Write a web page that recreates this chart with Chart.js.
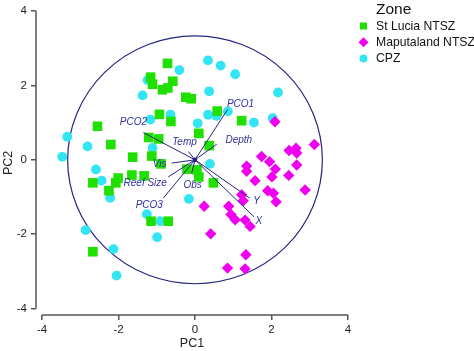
<!DOCTYPE html>
<html>
<head>
<meta charset="utf-8">
<script src="https://cdn.jsdelivr.net/npm/chart.js@4.4.1/dist/chart.umd.min.js"></script>
<style>
  html, body { margin: 0; padding: 0; background: #fff; }
  #wrap { width: 474px; height: 351px; }
</style>
</head>
<body>
<div id="wrap"><canvas id="pca"></canvas></div>
<script>
// zones
const zoneNames = ['St Lucia NTSZ', 'Maputaland NTSZ', 'CPZ'];

// St Lucia NTSZ (green squares)
const stLuciaX = [-0.72, -1.16, -1.11, -0.85, -0.71, -0.58, -0.24, -0.10, 0.58, -0.93, -0.63, -2.55, 0.10, -2.20, -1.21, -0.95, 0.37,
  -1.63, -1.13, 1.22, -0.89, -2.67, -2.25, -2.07, -2.01, -1.65, -1.33, 0.10, 0.48, -1.15, -0.70, -2.67, -0.21, 0.05];
const stLuciaY = [2.59, 2.22, 2.03, 1.88, 1.93, 2.11, 1.68, 1.64, 1.31, 1.22, 1.03, 0.90, 0.71, 0.41, 0.60, 0.56, 0.38,
  0.07, 0.10, 1.05, -0.11, -0.62, -0.83, -0.62, -0.49, -0.41, -0.43, -0.46, -0.62, -1.65, -1.65, -2.47, -0.25, -0.27];

// Maputaland NTSZ (magenta diamonds)
const maputalandX = [2.09, 3.12, 2.46, 2.64, 2.66, 1.74, 1.95, 2.66, 1.35, 1.35, 2.10, 2.01, 2.45, 1.57, 2.88, 1.90, 2.05,
  2.12, 1.22, 1.26, 0.24, 0.88, 0.94, 1.05, 1.31, 1.44, 0.41, 1.33, 0.85, 1.31];
const maputalandY = [1.02, 0.41, 0.25, 0.31, 0.18, 0.09, -0.05, -0.14, -0.17, -0.31, -0.25, -0.46, -0.42, -0.56, -0.81, -0.83, -0.90,
  -1.13, -0.94, -1.10, -1.25, -1.25, -1.47, -1.61, -1.62, -1.79, -1.99, -2.55, -2.91, -2.93];

// CPZ (cyan circles)
const cpzX = [-0.41, 0.34, 0.67, 1.05, 0.37, 2.17, -1.37, -1.24, -0.64, -1.17, 0.07, 0.34, 0.56, 0.86, 1.54, 2.03,
  -3.34, -2.81, -3.47, -1.11, 0.39, -2.59, -2.44, -2.22, -0.16, -1.26, -0.91, -0.99, -2.86, -2.13, -2.05];
const cpzY = [2.41, 2.67, 2.53, 2.30, 1.84, 1.81, 1.73, 2.14, 1.21, 1.08, 0.98, 1.21, 1.18, 1.30, 1.00, 1.12,
  0.62, 0.36, 0.08, 0.32, -0.11, -0.26, -0.56, -1.02, -1.05, -1.46, -1.65, -2.08, -1.89, -2.40, -3.11];

// biplot vectors (end points, from origin)
const vectorNames = ['PCO1', 'PCO2', 'Temp', 'Depth', 'Vis', 'Reef Size', 'Obs', 'PCO3', 'Y', 'X'];
const vectorX = [0.85, -1.35, -0.17, 0.57, -0.61, -0.70, -0.09, -0.83, 1.43, 1.54];
const vectorY = [1.35, 0.73, 0.22, 0.42, -0.09, -0.46, -0.37, -1.03, -1.03, -1.53];

const circleRadius = 3.33;
const xTicks = [-4, -2, 0, 2, 4];
const yTicks = [-4, -2, 0, 2, 4];

// styling
const FONT = "'Liberation Sans', Arial, sans-serif";
const NAVY = '#25257f';
const LABEL_NAVY = '#30309a';
const AXIS_GREY = '#555555';
// pixel offsets of the vector labels from the vector ends
const labelOffsets = [[13, -5], [-10, -10], [-4, -9], [22, -4], [-12, 1], [-23, 6], [1, 12], [-14, 7], [7, 3], [5, 4]];

const pts = (xs, ys) => xs.map((x, i) => ({ x: x, y: ys[i] }));

const datasets = [
  { label: zoneNames[0], data: pts(stLuciaX, stLuciaY), pointStyle: 'rect', pointRadius: 6.8,
    backgroundColor: '#1fe000', borderColor: '#1fe000', borderWidth: 0 },
  { label: zoneNames[1], data: pts(maputalandX, maputalandY), pointStyle: 'rectRot', pointRadius: 5.7,
    backgroundColor: '#f000f0', borderColor: '#f000f0', borderWidth: 0 },
  { label: zoneNames[2], data: pts(cpzX, cpzY), pointStyle: 'circle', pointRadius: 4.9,
    backgroundColor: '#33e4f2', borderColor: '#33e4f2', borderWidth: 0 }
];

vectorNames.forEach((name, i) => {
  datasets.push({
    label: name,
    isVector: true,
    data: [{ x: 0, y: 0 }, { x: vectorX[i], y: vectorY[i] }],
    showLine: true,
    borderColor: NAVY,
    borderWidth: 1,
    pointRadius: [1.5, 0],
    backgroundColor: NAVY,
    order: -1
  });
});

const biplotExtras = {
  id: 'biplotExtras',
  beforeDatasetsDraw(chart) {
    const ctx = chart.ctx;
    const xs = chart.scales.x, ys = chart.scales.y;
    const cx = xs.getPixelForValue(0), cy = ys.getPixelForValue(0);
    const rx = Math.abs(xs.getPixelForValue(circleRadius) - cx);
    const ry = Math.abs(ys.getPixelForValue(circleRadius) - cy);
    ctx.save();
    ctx.strokeStyle = NAVY;
    ctx.lineWidth = 1.2;
    ctx.beginPath();
    ctx.ellipse(cx, cy, rx, ry, 0, 0, Math.PI * 2);
    ctx.stroke();
    ctx.restore();
  },
  afterDatasetsDraw(chart) {
    const ctx = chart.ctx;
    const xs = chart.scales.x, ys = chart.scales.y;
    ctx.save();
    ctx.fillStyle = LABEL_NAVY;
    ctx.font = 'italic 10px ' + FONT;
    ctx.textAlign = 'center';
    ctx.textBaseline = 'middle';
    vectorNames.forEach((name, i) => {
      const px = xs.getPixelForValue(vectorX[i]) + labelOffsets[i][0];
      const py = ys.getPixelForValue(vectorY[i]) + labelOffsets[i][1];
      ctx.fillText(name, px, py);
    });
    ctx.restore();
  },
  afterDraw(chart) {
    const ctx = chart.ctx;
    const xs = chart.scales.x, ys = chart.scales.y;
    const area = chart.chartArea;
    // detached axis lines
    ctx.save();
    ctx.strokeStyle = AXIS_GREY;
    ctx.lineWidth = 1.5;
    ctx.beginPath();
    ctx.moveTo(xs.getPixelForValue(xTicks[0]), area.bottom);
    ctx.lineTo(xs.getPixelForValue(xTicks[xTicks.length - 1]), area.bottom);
    ctx.moveTo(area.left, ys.getPixelForValue(yTicks[0]));
    ctx.lineTo(area.left, ys.getPixelForValue(yTicks[yTicks.length - 1]));
    ctx.stroke();

    // legend
    const lx = area.right;
    ctx.fillStyle = '#111';
    ctx.textAlign = 'left';
    ctx.textBaseline = 'middle';
    ctx.font = '15.5px ' + FONT;
    ctx.fillText('Zone', lx + 28, 10);
    ctx.font = '12.2px ' + FONT;
    chart.data.datasets.filter(d => !d.isVector).forEach((d, i) => {
      const mx = lx + 15.5, my = 26 + i * 16.2;
      ctx.fillStyle = d.backgroundColor;
      ctx.beginPath();
      if (d.pointStyle === 'rect') {
        ctx.rect(mx - 3.5, my - 3.5, 7, 7);
      } else if (d.pointStyle === 'rectRot') {
        ctx.moveTo(mx, my - 5); ctx.lineTo(mx + 5, my); ctx.lineTo(mx, my + 5); ctx.lineTo(mx - 5, my);
        ctx.closePath();
      } else {
        ctx.arc(mx, my, 4, 0, Math.PI * 2);
      }
      ctx.fill();
      ctx.fillStyle = '#111';
      ctx.fillText(d.label, lx + 28, my + 0.5);
    });
    ctx.restore();
  }
};

new Chart(document.getElementById('pca'), {
  type: 'scatter',
  data: { datasets: datasets },
  options: {
    responsive: true,
    maintainAspectRatio: false,
    animation: false,
    events: [],
    layout: { padding: { top: 7, right: 126, left: 0, bottom: 0 } },
    plugins: {
      legend: { display: false },
      tooltip: { enabled: false }
    },
    scales: {
      x: {
        type: 'linear',
        min: -4.157,
        max: 4,
        afterBuildTicks: s => { s.ticks = xTicks.map(v => ({ value: v })); },
        afterFit: s => { s.height = 36; },
        border: { display: false },
        grid: { drawOnChartArea: false, drawTicks: true, tickLength: 5, color: AXIS_GREY, lineWidth: 1.5 },
        ticks: { color: '#222', font: { family: FONT, size: 11.5 }, padding: 3, maxRotation: 0 },
        title: { display: true, text: 'PC1', color: '#222', font: { family: FONT, size: 12.5 }, padding: { top: 0, bottom: 0 } }
      },
      y: {
        type: 'linear',
        min: -4.17,
        max: 4,
        afterBuildTicks: s => { s.ticks = yTicks.map(v => ({ value: v })); },
        afterFit: s => { s.width = 36; },
        border: { display: false },
        grid: { drawOnChartArea: false, drawTicks: true, tickLength: 5, color: AXIS_GREY, lineWidth: 1.5 },
        ticks: { color: '#222', font: { family: FONT, size: 11.5 }, padding: 4 },
        title: { display: true, text: 'PC2', color: '#222', font: { family: FONT, size: 12.5 }, padding: { top: 1, bottom: 0 } }
      }
    }
  },
  plugins: [biplotExtras]
});
</script>
</body>
</html>
